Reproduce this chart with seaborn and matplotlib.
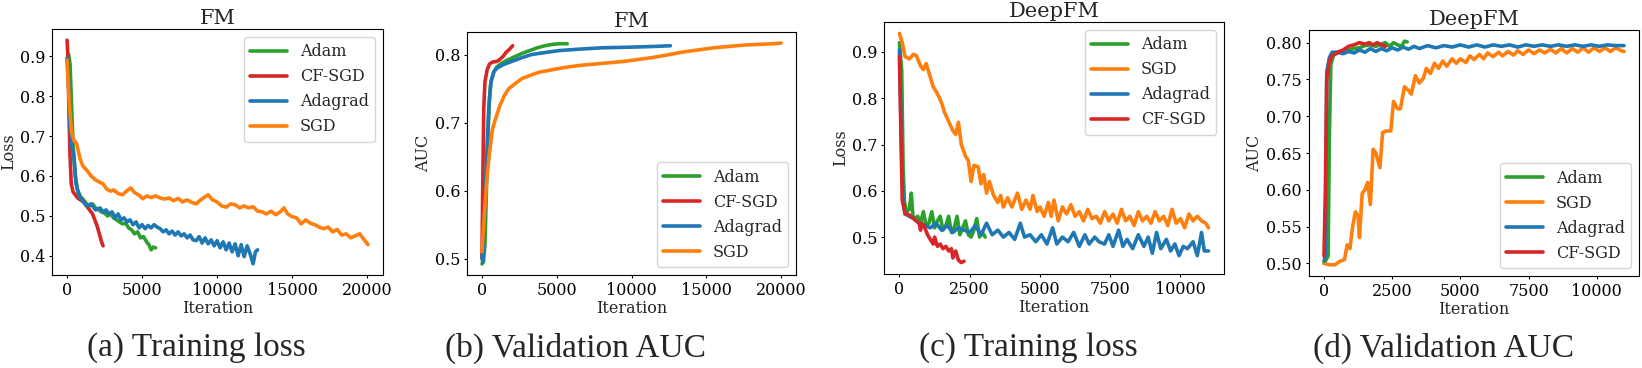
import pandas as pd
import seaborn as sns
import matplotlib.pyplot as plt
from matplotlib.ticker import MultipleLocator

# ---- (a) FM training loss ----
fm_loss_adam_x = [0, 100, 200, 300, 400, 550, 700, 900, 1100, 1300, 1500, 1700, 1900, 2100, 2300, 2500,
                  2700, 2900, 3100, 3300, 3500, 3700, 3900, 4100, 4300, 4500, 4700, 4900, 5100, 5300,
                  5450, 5600, 5750, 5900]
fm_loss_adam_y = [0.89, 0.905, 0.88, 0.78, 0.68, 0.60, 0.565, 0.548, 0.54, 0.53, 0.525, 0.53, 0.52, 0.515,
                  0.51, 0.507, 0.50, 0.505, 0.495, 0.49, 0.485, 0.48, 0.482, 0.47, 0.465, 0.455, 0.46,
                  0.445, 0.448, 0.435, 0.428, 0.415, 0.422, 0.42]
fm_loss_cfsgd_x = [0, 60, 130, 200, 280, 400, 550, 700, 900, 1100, 1300, 1500, 1700, 1850, 2000, 2150,
                   2300, 2400]
fm_loss_cfsgd_y = [0.94, 0.90, 0.75, 0.65, 0.58, 0.56, 0.553, 0.545, 0.54, 0.535, 0.525, 0.515, 0.505,
                   0.49, 0.475, 0.455, 0.435, 0.425]
fm_loss_adagrad_x = [0, 100, 200, 300, 450, 600, 800, 1000, 1300, 1600, 1900, 2200, 2400, 2600, 2800,
                     3000, 3200, 3400, 3600, 3800, 4000, 4200, 4400, 4600, 4800, 5000, 5200, 5400, 5600,
                     5800, 6000, 6200, 6400, 6600, 6800, 7000, 7200, 7400, 7600, 7800, 8000, 8200, 8400,
                     8600, 8800, 9000, 9200, 9400, 9600, 9800, 10000, 10200, 10400, 10600, 10800, 11000,
                     11200, 11400, 11600, 11800, 12000, 12200, 12400, 12550, 12700]
fm_loss_adagrad_y = [0.895, 0.83, 0.72, 0.68, 0.65, 0.58, 0.55, 0.54, 0.525, 0.53, 0.515, 0.52, 0.51,
                     0.515, 0.505, 0.51, 0.495, 0.505, 0.49, 0.495, 0.485, 0.49, 0.478, 0.485, 0.47,
                     0.478, 0.468, 0.476, 0.47, 0.478, 0.472, 0.468, 0.46, 0.465, 0.455, 0.462, 0.452,
                     0.46, 0.45, 0.455, 0.445, 0.452, 0.44, 0.438, 0.448, 0.432, 0.445, 0.43, 0.44, 0.425,
                     0.438, 0.42, 0.435, 0.415, 0.432, 0.41, 0.43, 0.40, 0.428, 0.398, 0.425, 0.405,
                     0.38, 0.41, 0.415]
fm_loss_sgd_x = [0, 150, 300, 450, 650, 850, 1050, 1300, 1600, 1900, 2150, 2400, 2650, 2900, 3100, 3400,
                 3700, 3950, 4250, 4500, 4800, 5050, 5300, 5600, 5900, 6200, 6500, 6800, 7100, 7400,
                 7700, 8000, 8300, 8600, 8900, 9200, 9400, 9700, 10000, 10300, 10600, 10900, 11200,
                 11500, 11800, 12100, 12400, 12700, 13000, 13300, 13600, 13900, 14200, 14450, 14700,
                 15000, 15300, 15600, 15900, 16200, 16500, 16800, 17100, 17400, 17700, 18000, 18300,
                 18600, 18900, 19200, 19500, 19800, 20050]
fm_loss_sgd_y = [0.89, 0.78, 0.71, 0.69, 0.68, 0.645, 0.625, 0.615, 0.60, 0.59, 0.585, 0.58, 0.567,
                 0.562, 0.565, 0.556, 0.553, 0.562, 0.57, 0.558, 0.552, 0.543, 0.55, 0.546, 0.55, 0.545,
                 0.542, 0.545, 0.538, 0.544, 0.535, 0.54, 0.534, 0.53, 0.54, 0.548, 0.553, 0.54, 0.535,
                 0.525, 0.522, 0.53, 0.528, 0.52, 0.525, 0.52, 0.523, 0.512, 0.51, 0.505, 0.512, 0.503,
                 0.51, 0.52, 0.505, 0.498, 0.495, 0.48, 0.49, 0.482, 0.478, 0.472, 0.468, 0.472, 0.46,
                 0.466, 0.452, 0.455, 0.445, 0.45, 0.455, 0.44, 0.428]

# ---- (b) FM validation AUC ----
fm_auc_adam_x = [0, 100, 200, 300, 400, 500, 600, 800, 1000, 1300, 1700, 2200, 2700, 3200, 3700, 4200,
                 4700, 5200, 5700]
fm_auc_adam_y = [0.492, 0.495, 0.52, 0.60, 0.68, 0.735, 0.76, 0.775, 0.782, 0.787, 0.792, 0.797, 0.802,
                 0.806, 0.81, 0.813, 0.815, 0.816, 0.816]
fm_auc_cfsgd_x = [0, 50, 120, 200, 350, 500, 700, 1000, 1200, 1400, 1600, 1850, 2050]
fm_auc_cfsgd_y = [0.50, 0.60, 0.72, 0.76, 0.778, 0.786, 0.789, 0.79, 0.793, 0.797, 0.803, 0.808, 0.813]
fm_auc_adagrad_x = [0, 50, 150, 300, 450, 600, 800, 1000, 1400, 2000, 2600, 3300, 4200, 5200, 6500,
                    8000, 10000, 11500, 12600]
fm_auc_adagrad_y = [0.505, 0.495, 0.55, 0.64, 0.72, 0.76, 0.775, 0.78, 0.785, 0.79, 0.795, 0.80, 0.803,
                    0.806, 0.808, 0.81, 0.811, 0.812, 0.813]
fm_auc_sgd_x = [0, 150, 300, 500, 700, 900, 1200, 1500, 1800, 2200, 2700, 3300, 3800, 4300, 5000, 5500,
                6500, 7500, 8500, 9500, 10500, 11500, 12500, 13500, 14500, 15500, 16500, 17500, 18500,
                19500, 20000]
fm_auc_sgd_y = [0.51, 0.56, 0.61, 0.655, 0.69, 0.705, 0.725, 0.74, 0.75, 0.757, 0.765, 0.77, 0.774,
                0.776, 0.779, 0.781, 0.784, 0.786, 0.788, 0.79, 0.793, 0.796, 0.80, 0.804, 0.807, 0.81,
                0.812, 0.814, 0.815, 0.816, 0.817]

# ---- (c) DeepFM training loss ----
dfm_loss_adam_x = [0, 80, 130, 180, 250, 350, 420, 480, 550, 650, 750, 850, 950, 1050, 1150, 1250, 1350,
                   1450, 1550, 1650, 1750, 1850, 1950, 2050, 2150, 2250, 2350, 2450, 2550, 2650, 2750,
                   2850, 2950, 3050]
dfm_loss_adam_y = [0.92, 0.86, 0.65, 0.575, 0.555, 0.56, 0.595, 0.545, 0.54, 0.545, 0.53, 0.555, 0.525,
                   0.53, 0.555, 0.52, 0.535, 0.545, 0.515, 0.525, 0.545, 0.51, 0.52, 0.545, 0.505, 0.52,
                   0.535, 0.505, 0.50, 0.515, 0.54, 0.50, 0.51, 0.50]
dfm_loss_sgd_x = [0, 100, 200, 350, 500, 600, 750, 850, 950, 1050, 1200, 1350, 1500, 1600, 1750, 1900,
                  2000, 2100, 2200, 2350, 2450, 2550, 2650, 2800, 2900, 3000, 3100, 3200, 3350, 3500,
                  3600, 3700, 3850, 4000, 4200, 4350, 4500, 4650, 4750, 4900, 5000, 5150, 5300, 5400,
                  5500, 5650, 5800, 5950, 6100, 6250, 6400, 6550, 6700, 6850, 7000, 7150, 7300, 7450,
                  7600, 7750, 7900, 8050, 8200, 8350, 8500, 8650, 8800, 8950, 9100, 9250, 9400, 9550,
                  9700, 9850, 10000, 10150, 10300, 10450, 10600, 10750, 10900, 11000]
dfm_loss_sgd_y = [0.94, 0.92, 0.89, 0.885, 0.895, 0.892, 0.87, 0.862, 0.875, 0.855, 0.825, 0.81, 0.79,
                  0.77, 0.75, 0.73, 0.722, 0.748, 0.70, 0.675, 0.665, 0.62, 0.655, 0.652, 0.615, 0.635,
                  0.595, 0.62, 0.59, 0.575, 0.59, 0.565, 0.585, 0.565, 0.595, 0.56, 0.58, 0.56, 0.59,
                  0.555, 0.565, 0.545, 0.575, 0.545, 0.58, 0.535, 0.565, 0.55, 0.57, 0.545, 0.555,
                  0.535, 0.56, 0.54, 0.545, 0.53, 0.555, 0.535, 0.55, 0.53, 0.56, 0.535, 0.545, 0.525,
                  0.555, 0.535, 0.545, 0.53, 0.555, 0.535, 0.545, 0.525, 0.56, 0.53, 0.54, 0.52, 0.55,
                  0.535, 0.545, 0.535, 0.53, 0.52]
dfm_loss_adagrad_x = [0, 70, 120, 200, 350, 500, 700, 900, 1100, 1300, 1500, 1700, 1900, 2100, 2300,
                      2500, 2700, 2900, 3100, 3300, 3500, 3700, 3900, 4100, 4300, 4450, 4650, 4850, 5050,
                      5250, 5450, 5600, 5800, 6000, 6200, 6400, 6600, 6750, 6950, 7100, 7300, 7450, 7600,
                      7800, 7950, 8100, 8300, 8500, 8700, 8850, 9000, 9150, 9300, 9500, 9650, 9800, 9950,
                      10100, 10250, 10450, 10600, 10750, 10850, 11000]
dfm_loss_adagrad_y = [0.905, 0.70, 0.59, 0.55, 0.545, 0.54, 0.53, 0.525, 0.52, 0.53, 0.515, 0.525, 0.51,
                      0.52, 0.515, 0.51, 0.525, 0.505, 0.53, 0.505, 0.515, 0.50, 0.51, 0.495, 0.53, 0.50,
                      0.505, 0.49, 0.505, 0.485, 0.52, 0.485, 0.50, 0.49, 0.51, 0.48, 0.505, 0.485, 0.50,
                      0.49, 0.485, 0.505, 0.48, 0.515, 0.48, 0.495, 0.475, 0.505, 0.48, 0.50, 0.465,
                      0.51, 0.475, 0.495, 0.47, 0.485, 0.46, 0.48, 0.475, 0.49, 0.46, 0.51, 0.47, 0.47]
dfm_loss_cfsgd_x = [0, 60, 100, 200, 300, 400, 500, 600, 700, 750, 800, 900, 1000, 1100, 1200, 1250,
                    1350, 1450, 1550, 1650, 1750, 1850, 1900, 2000, 2100, 2200, 2300]
dfm_loss_cfsgd_y = [0.89, 0.70, 0.58, 0.55, 0.55, 0.545, 0.54, 0.535, 0.53, 0.515, 0.53, 0.52, 0.505,
                    0.495, 0.485, 0.50, 0.48, 0.485, 0.475, 0.48, 0.47, 0.475, 0.455, 0.47, 0.45, 0.445,
                    0.448]

# ---- (d) DeepFM validation AUC ----
dfm_auc_adam_x = [0, 80, 150, 200, 250, 350, 500, 700, 900, 1100, 1300, 1500, 1700, 1900, 2100, 2250,
                  2400, 2550, 2700, 2850, 2950, 3050]
dfm_auc_adam_y = [0.50, 0.505, 0.51, 0.68, 0.77, 0.783, 0.786, 0.789, 0.79, 0.792, 0.793, 0.796, 0.797,
                  0.795, 0.798, 0.80, 0.795, 0.80, 0.797, 0.795, 0.802, 0.801]
dfm_auc_sgd_x = [0, 200, 400, 600, 750, 850, 950, 1050, 1150, 1250, 1300, 1400, 1500, 1600, 1700, 1800,
                 1900, 2050, 2150, 2300, 2450, 2550, 2700, 2800, 2950, 3100, 3200, 3350, 3500, 3650,
                 3750, 3900, 4050, 4200, 4350, 4500, 4700, 4850, 5000, 5200, 5350, 5500, 5700, 5850,
                 6000, 6200, 6400, 6550, 6750, 6950, 7100, 7300, 7500, 7700, 7900, 8100, 8300, 8500,
                 8700, 8900, 9100, 9300, 9500, 9700, 9900, 10100, 10300, 10500, 10700, 10900, 11000]
dfm_auc_sgd_y = [0.50, 0.498, 0.498, 0.503, 0.505, 0.525, 0.52, 0.55, 0.57, 0.565, 0.535, 0.595, 0.60,
                 0.61, 0.58, 0.655, 0.65, 0.63, 0.678, 0.68, 0.68, 0.72, 0.71, 0.71, 0.74, 0.735, 0.73,
                 0.755, 0.745, 0.752, 0.765, 0.758, 0.772, 0.765, 0.775, 0.768, 0.778, 0.772, 0.778,
                 0.773, 0.782, 0.777, 0.784, 0.778, 0.786, 0.781, 0.787, 0.782, 0.788, 0.783, 0.789,
                 0.784, 0.79, 0.785, 0.79, 0.786, 0.791, 0.786, 0.792, 0.786, 0.792, 0.787, 0.793,
                 0.787, 0.793, 0.788, 0.793, 0.788, 0.793, 0.789, 0.788]
dfm_auc_adagrad_x = [0, 50, 100, 200, 300, 500, 700, 900, 1100, 1300, 1500, 1700, 1900, 2100, 2300,
                     2500, 2700, 2900, 3100, 3300, 3500, 3800, 4100, 4400, 4700, 5000, 5300, 5600, 5900,
                     6200, 6500, 6800, 7100, 7400, 7700, 8000, 8300, 8600, 8900, 9200, 9500, 9800,
                     10100, 10400, 10700, 11000]
dfm_auc_adagrad_y = [0.503, 0.51, 0.76, 0.78, 0.787, 0.787, 0.785, 0.788, 0.786, 0.79, 0.787, 0.792,
                     0.788, 0.792, 0.789, 0.793, 0.79, 0.794, 0.791, 0.795, 0.792, 0.796, 0.793, 0.796,
                     0.794, 0.797, 0.794, 0.797, 0.794, 0.797, 0.795, 0.797, 0.794, 0.797, 0.795, 0.797,
                     0.795, 0.797, 0.795, 0.797, 0.795, 0.797, 0.795, 0.797, 0.796, 0.796]
dfm_auc_cfsgd_x = [0, 50, 100, 200, 300, 500, 700, 900, 1100, 1300, 1500, 1650, 1800, 1950, 2100, 2250]
dfm_auc_cfsgd_y = [0.51, 0.60, 0.75, 0.775, 0.782, 0.787, 0.79, 0.795, 0.797, 0.80, 0.798, 0.80, 0.797,
                   0.80, 0.797, 0.795]

colors = {"Adam": "#2ca02c", "CF-SGD": "#d62728", "Adagrad": "#1f77b4", "SGD": "#ff7f0e"}
order_fm = ["Adam", "CF-SGD", "Adagrad", "SGD"]
order_dfm = ["Adam", "SGD", "Adagrad", "CF-SGD"]


def make_df(series):
    frames = []
    for name, (xs, ys) in series.items():
        frames.append(pd.DataFrame({"Iteration": xs, "value": ys, "method": name}))
    return pd.concat(frames, ignore_index=True)


panels = [
    dict(df=make_df({"Adam": (fm_loss_adam_x, fm_loss_adam_y),
                     "CF-SGD": (fm_loss_cfsgd_x, fm_loss_cfsgd_y),
                     "Adagrad": (fm_loss_adagrad_x, fm_loss_adagrad_y),
                     "SGD": (fm_loss_sgd_x, fm_loss_sgd_y)}),
         order=order_fm, title="FM", ylabel="Loss", loc="upper right", xstep=5000,
         rect=[52, 29, 383, 275], caption="(a) Training loss", cap_x=196),
    dict(df=make_df({"Adam": (fm_auc_adam_x, fm_auc_adam_y),
                     "CF-SGD": (fm_auc_cfsgd_x, fm_auc_cfsgd_y),
                     "Adagrad": (fm_auc_adagrad_x, fm_auc_adagrad_y),
                     "SGD": (fm_auc_sgd_x, fm_auc_sgd_y)}),
         order=order_fm, title="FM", ylabel="AUC", loc="lower right", xstep=5000,
         rect=[467, 32, 796, 275], caption="(b) Validation AUC", cap_x=575),
    dict(df=make_df({"Adam": (dfm_loss_adam_x, dfm_loss_adam_y),
                     "SGD": (dfm_loss_sgd_x, dfm_loss_sgd_y),
                     "Adagrad": (dfm_loss_adagrad_x, dfm_loss_adagrad_y),
                     "CF-SGD": (dfm_loss_cfsgd_x, dfm_loss_cfsgd_y)}),
         order=order_dfm, title="DeepFM", ylabel="Loss", loc="upper right", xstep=2500,
         rect=[884, 22, 1224, 274], caption="(c) Training loss", cap_x=1028),
    dict(df=make_df({"Adam": (dfm_auc_adam_x, dfm_auc_adam_y),
                     "SGD": (dfm_auc_sgd_x, dfm_auc_sgd_y),
                     "Adagrad": (dfm_auc_adagrad_x, dfm_auc_adagrad_y),
                     "CF-SGD": (dfm_auc_cfsgd_x, dfm_auc_cfsgd_y)}),
         order=order_dfm, title="DeepFM", ylabel="AUC", loc="lower right", xstep=2500,
         rect=[1309, 30, 1639, 276], caption="(d) Validation AUC", cap_x=1443),
]

sns.set_style("ticks")
plt.rcParams['font.family'] = ['DejaVu Serif']
plt.rcParams['axes.edgecolor'] = 'black'
plt.rcParams['xtick.color'] = 'black'
plt.rcParams['ytick.color'] = 'black'

W, H = 1642, 368
fig = plt.figure(figsize=(W / 100, H / 100), dpi=100)

for p in panels:
    l, t, r, b = p["rect"]
    ax = fig.add_axes([l / W, (H - b) / H, (r - l) / W, (b - t) / H])
    sns.lineplot(data=p["df"], x="Iteration", y="value", hue="method", hue_order=p["order"],
                 palette=colors, estimator=None, sort=False, linewidth=2.6, ax=ax)
    ax.xaxis.set_major_locator(MultipleLocator(p["xstep"]))
    ax.set_title(p["title"], fontsize=15, pad=3.5)
    ax.set_xlabel("Iteration", fontsize=11.5, labelpad=1)
    ax.set_ylabel(p["ylabel"], fontsize=11.5, labelpad=2)
    ax.tick_params(labelsize=11.5, length=2.5, width=0.8, pad=2.5)
    ax.legend(loc=p["loc"], fontsize=11.5, frameon=True, handlelength=2.3)
    fig.text(p["cap_x"] / W, (H - 348) / H, p["caption"], ha="center", va="center",
             fontsize=24, family="Liberation Serif")

fig.savefig("out.png", dpi=100)
